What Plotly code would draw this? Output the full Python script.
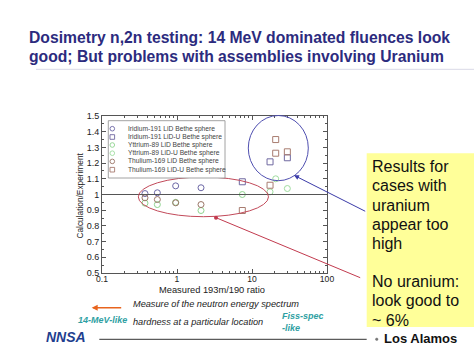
import plotly.graph_objects as go

# ---------------- data ----------------
series_names = [
    "Iridium-191 LiD Bethe sphere",
    "Iridium-191 LiD-U Bethe sphere",
    "Yttrium-89 LiD Bethe sphere",
    "Yttrium-89 LiD-U Bethe sphere",
    "Thulium-169 LiD Bethe sphere",
    "Thulium-169 LiD-U Bethe sphere",
]
ir_lid_x = [0.374, 0.547, 0.96, 2.09]
ir_lid_y = [1.006, 1.011, 1.055, 1.043]
ir_lidu_x = [7.43, 17.4, 29.6]
ir_lidu_y = [1.081, 1.208, 1.234]
y_lid_x = [0.374, 0.547, 0.96, 2.09, 7.43]
y_lid_y = [0.945, 0.936, 0.950, 0.898, 1.0]
y_lidu_x = [17.4, 20.7, 29.6]
y_lidu_y = [1.017, 1.10, 1.038]
tm_lid_x = [0.374, 0.547, 0.96, 2.09]
tm_lid_y = [0.979, 0.968, 0.947, 0.936]
tm_lidu_x = [7.43, 17.4, 20.7, 20.7, 29.6]
tm_lidu_y = [0.898, 1.059, 1.35, 1.263, 1.272]

x_tickvals = [0.1, 1, 10, 100]
x_ticktext = ["0.1", "1", "10", "100"]

box_lines = ["Results for", "cases with", "uranium", "appear too", "high",
             "No uranium:", "look good to", "~ 6%"]

# ---------------- layout geometry ----------------
W, H = 474, 355
L, R, T, B = 102, 147, 116, 82
PW = W - L - R
PH = H - T - B


def xp(px):
    return (px - L) / PW


def yp(py):
    return (H - B - py) / PH


FONT = "Liberation Sans, Arial, Helvetica, sans-serif"
purple = "#6c67a6"
purple2 = "#6f68a0"
green = "#8fd48f"
green2 = "#9fdc9f"
brown = "#9a7566"
brown2 = "#a87c70"

styles = [
    ("circle-open", purple),
    ("square-open", purple2),
    ("circle-open", green),
    ("circle-open", green2),
    ("circle-open", brown),
    ("square-open", brown2),
]
xs = [ir_lid_x, ir_lidu_x, y_lid_x, y_lidu_x, tm_lid_x, tm_lidu_x]
ys = [ir_lid_y, ir_lidu_y, y_lid_y, y_lidu_y, tm_lid_y, tm_lidu_y]

fig = go.Figure()
for name, (sym, col), x, y in zip(series_names, styles, xs, ys):
    fig.add_trace(go.Scatter(
        x=x, y=y, mode="markers", name=name,
        marker=dict(symbol=sym, size=6, color=col, line=dict(width=1, color=col)),
        showlegend=False, cliponaxis=False,
    ))

shapes = []
annotations = []

# reference line at 1
shapes.append(dict(type="line", xref="paper", yref="y", x0=0, x1=1, y0=1, y1=1,
                   line=dict(color="#555555", width=1)))

# ellipses
shapes.append(dict(type="circle", xref="paper", yref="paper",
                   x0=xp(138.3), x1=xp(268.5), y0=yp(216.7), y1=yp(177),
                   line=dict(color="#c24a5a", width=1)))
shapes.append(dict(type="circle", xref="paper", yref="paper",
                   x0=xp(248.3), x1=xp(308.3), y0=yp(180.7), y1=yp(115.5),
                   line=dict(color="#4f4fb0", width=1)))

# manual legend
leg_rows = [128.7, 137.0, 145.0, 153.2, 161.4, 169.7]
shapes.append(dict(type="rect", xref="paper", yref="paper",
                   x0=xp(108.3), x1=xp(225), y0=yp(178), y1=yp(120.7),
                   line=dict(color="#8a8a8a", width=0.8), fillcolor="white"))
for name, (sym, col), ry in zip(series_names, styles, leg_rows):
    r = 2.3
    stype = "circle" if sym.startswith("circle") else "rect"
    shapes.append(dict(type=stype, xref="paper", yref="paper",
                       x0=xp(112.3 - r), x1=xp(112.3 + r), y0=yp(ry + r), y1=yp(ry - r),
                       line=dict(color=col, width=0.9)))
    annotations.append(dict(xref="paper", yref="paper", x=xp(125.5), y=yp(ry),
                            xanchor="left", yanchor="middle", showarrow=False,
                            text=name, font=dict(family=FONT, size=6.7, color="#444444")))

# axis titles
annotations.append(dict(xref="paper", yref="paper", x=xp(211.7), y=yp(290.3),
                        xanchor="center", yanchor="middle", showarrow=False,
                        text="Measured 193m/190 ratio",
                        font=dict(family=FONT, size=9.3, color="#222222")))
annotations.append(dict(xref="paper", yref="paper", x=xp(79.5), y=yp(196),
                        xanchor="center", yanchor="middle", showarrow=False, textangle=-90,
                        text="Calculation/Experiment",
                        font=dict(family=FONT, size=8.3, color="#222222")))

# title
title_col = "#2c2b7e"
annotations.append(dict(xref="paper", yref="paper", x=xp(27), y=yp(37.5),
                        xanchor="left", yanchor="middle", showarrow=False,
                        text="<b>Dosimetry n,2n testing: 14 MeV dominated fluences look</b>",
                        font=dict(family=FONT, size=15.7, color=title_col)))
annotations.append(dict(xref="paper", yref="paper", x=xp(27), y=yp(56.5),
                        xanchor="left", yanchor="middle", showarrow=False,
                        text="<b>good; But problems with assemblies involving Uranium</b>",
                        font=dict(family=FONT, size=15.7, color=title_col)))
shapes.append(dict(type="line", xref="paper", yref="paper",
                   x0=xp(36), x1=xp(474), y0=yp(69.3), y1=yp(69.3),
                   line=dict(color="#d9d9e6", width=1)))

# yellow note box
shapes.append(dict(type="rect", xref="paper", yref="paper",
                   x0=xp(366.7), x1=xp(474), y0=yp(327), y1=yp(153.3),
                   line=dict(width=0), fillcolor="#ffff99"))
line_y = [166.5, 185.8, 205.1, 224.4, 243.7, 281.5, 300.8, 320.1]
for txt, ly in zip(box_lines, line_y):
    annotations.append(dict(xref="paper", yref="paper", x=xp(369.5), y=yp(ly),
                            xanchor="left", yanchor="middle", showarrow=False,
                            text=txt, font=dict(family=FONT, size=16, color="#111111")))

# arrows
annotations.append(dict(xref="paper", yref="paper", x=xp(294), y=yp(175.3),
                        ax=366.7 - 294, ay=212 - 175.3, text="", showarrow=True,
                        arrowhead=2, arrowsize=1, arrowwidth=1, arrowcolor="#3a3aa8"))
annotations.append(dict(xref="paper", yref="paper", x=xp(216), y=yp(217.7),
                        ax=361.7 - 216, ay=278.3 - 217.7, text="", showarrow=True,
                        arrowhead=6, arrowsize=1, arrowwidth=1, arrowcolor="#c23a4e"))
annotations.append(dict(xref="paper", yref="paper", x=xp(91.7), y=yp(307.7),
                        ax=31, ay=0, text="", showarrow=True,
                        arrowhead=2, arrowsize=0.8, arrowwidth=1.5, arrowcolor="#e8641e"))

# bottom texts
annotations.append(dict(xref="paper", yref="paper", x=xp(130.5), y=yp(304.3),
                        xanchor="left", yanchor="middle", showarrow=False,
                        text="<i>Measure of the neutron energy spectrum</i>",
                        font=dict(family=FONT, size=9.2, color="#222222")))
annotations.append(dict(xref="paper", yref="paper", x=xp(130.5), y=yp(322.3),
                        xanchor="left", yanchor="middle", showarrow=False,
                        text="<i>hardness at a particular location</i>",
                        font=dict(family=FONT, size=9.2, color="#222222")))
teal = "#2f9fa3"
annotations.append(dict(xref="paper", yref="paper", x=xp(76), y=yp(320),
                        xanchor="left", yanchor="middle", showarrow=False,
                        text="<b><i>14-MeV-like</i></b>",
                        font=dict(family=FONT, size=9, color=teal)))
annotations.append(dict(xref="paper", yref="paper", x=xp(280), y=yp(316),
                        xanchor="left", yanchor="middle", showarrow=False,
                        text="<b><i>Fiss-spec</i></b>",
                        font=dict(family=FONT, size=9, color=teal)))
annotations.append(dict(xref="paper", yref="paper", x=xp(280), y=yp(327.5),
                        xanchor="left", yanchor="middle", showarrow=False,
                        text="<b><i>-like</i></b>",
                        font=dict(family=FONT, size=9, color=teal)))
annotations.append(dict(xref="paper", yref="paper", x=xp(44), y=yp(337),
                        xanchor="left", yanchor="middle", showarrow=False,
                        text="<b><i>NNSA</i></b>",
                        font=dict(family=FONT, size=14, color="#1f3f8f")))
shapes.append(dict(type="line", xref="paper", yref="paper",
                   x0=xp(99.3), x1=xp(366.7), y0=yp(339.3), y1=yp(339.3),
                   line=dict(color="#333333", width=1)))
shapes.append(dict(type="circle", xref="paper", yref="paper",
                   x0=xp(375.5), x1=xp(378), y0=yp(340.5), y1=yp(338),
                   line=dict(color="#777777", width=0.5), fillcolor="#777777"))
annotations.append(dict(xref="paper", yref="paper", x=xp(381.5), y=yp(338.3),
                        xanchor="left", yanchor="middle", showarrow=False,
                        text="<b>Los Alamos</b>",
                        font=dict(family=FONT, size=13, color="#111111")))

axis_common = dict(showline=True, linecolor="#555555", linewidth=1, mirror="allticks",
                   ticks="inside", tickcolor="#555555", ticklen=4, tickwidth=1,
                   showgrid=False, zeroline=False)

fig.update_layout(
    width=W, height=H, autosize=False,
    margin=dict(l=L, r=R, t=T, b=B, pad=0),
    paper_bgcolor="white", plot_bgcolor="white",
    showlegend=False,
    xaxis=dict(type="log", range=[-1, 2], tickvals=x_tickvals, ticktext=x_ticktext,
               ticklabelstandoff=-2,
               tickfont=dict(family=FONT, size=8.6, color="#222222"),
               minor=dict(ticks="inside", ticklen=2, tickcolor="#555555", dtick="D1"),
               **axis_common),
    yaxis=dict(range=[0.5, 1.5], dtick=0.1, tick0=0.5,
               tickfont=dict(family=FONT, size=9, color="#222222"),
               minor=dict(ticks="inside", ticklen=2, tickcolor="#555555", dtick=0.05),
               **axis_common),
    shapes=shapes,
    annotations=annotations,
)

fig.write_html("out.html")
